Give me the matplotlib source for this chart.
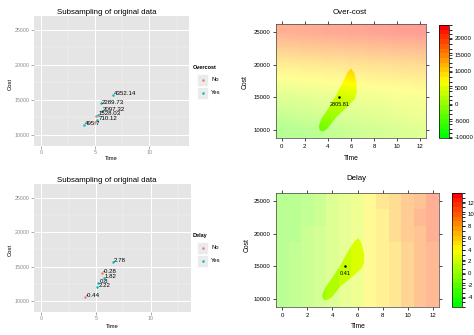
import numpy as np
import matplotlib
matplotlib.use('Agg')
import matplotlib.pyplot as plt
from matplotlib.colors import LinearSegmentedColormap, BoundaryNorm, Normalize
from matplotlib.patches import Polygon, Rectangle
from matplotlib.cm import ScalarMappable

plt.rcParams['font.family'] = ['Liberation Sans', 'DejaVu Sans']

# ---------------- data ----------------
over_time = [6.63, 5.50, 5.60, 5.23, 5.18, 3.97, 5.10, 5.00]
over_cost = [15760, 14510, 13460, 12880, 12160, 11400, 12740, 11870]
over_flag = ['Yes', 'Yes', 'Yes', 'Yes', 'Yes', 'Yes', 'No', 'No']
over_labels = ['4352.14', '2289.73', '2097.32', '1528.03', '710.12', '495.7', '', '']

delay_time = [6.55, 5.50, 5.70, 5.20, 5.10, 3.95]
delay_cost = [15680, 14060, 13400, 12650, 12070, 10580]
delay_flag = ['Yes', 'No', 'Yes', 'Yes', 'Yes', 'No']
delay_labels = ['2.78', '-0.28', '1.82', '0.8', '2.22', '-0.44']

grid_time = [0, 1, 2, 3, 4, 5, 6, 7, 8, 9, 10, 11, 12]
grid_cost = [10000, 12500, 15000, 17500, 20000, 22500, 25000]

# rows from cost 10000 (bottom) to 25000 (top)
overcost_grid = [
    [-5000, -4500, -4000, -3500, -2500, -2000, -1500, -500, 0, 500, 1000, 1500, 2000],
    [-1500, -1000, -500, 0, 500, 1000, 1500, 2000, 2500, 3000, 3500, 4000, 4500],
    [2000, 2000, 2500, 3000, 3500, 3500, 4000, 4500, 4500, 5000, 5500, 5500, 6000],
    [6000, 6000, 6500, 6500, 7000, 7000, 7500, 7500, 8000, 8000, 8500, 8500, 9000],
    [9500, 9500, 10000, 10000, 10500, 10500, 11000, 11000, 11500, 11500, 12000, 12000, 12500],
    [14500, 14500, 15000, 15000, 15500, 15500, 16000, 16000, 16500, 16500, 17000, 17000, 17500],
    [19500, 19500, 20000, 20000, 20500, 20500, 21000, 21000, 21500, 21500, 22000, 22000, 22500],
]
delay_grid = [
    [-2, -1.5, -0.5, 0, 1, 2, 3, 4, 5, 6, 7.5, 9, 10],
    [-2, -1.5, -0.5, 0, 1, 2, 3, 4, 5, 6, 7.5, 9, 10],
    [-2.5, -1.5, -0.5, 0, 1, 2, 3, 4, 5, 6, 7.5, 9, 10],
    [-2, -1.5, -0.5, 0, 1, 2, 3, 4, 5, 6, 7.5, 9, 10],
    [-2, -2, -0.5, 0, 1, 2, 3, 4, 5, 6.5, 8.5, 9.5, 10.5],
    [-2, -2, -1, -0.5, 1, 2, 3, 4, 5.5, 7, 8.5, 10, 11],
    [-2, -2, -1, -0.5, 1, 2, 3, 4, 6, 7, 8.5, 9.5, 11],
]

blob_time = [6.0, 6.3, 6.5, 6.5, 6.35, 5.6, 4.7, 3.9, 3.6, 3.3, 3.2, 3.4, 4.0, 4.6, 5.2, 5.7]
blob_cost = [19400, 18700, 17000, 15700, 14800, 13400, 11900, 10100, 9750, 9900,
             10500, 11600, 13200, 15000, 17000, 18800]

opt_time, opt_cost = 5.0, 15000
opt_over_label = '2805.81'
opt_delay_label = '0.41'

over_cticks = [-10000, -5000, 0, 5000, 10000, 15000, 20000]
delay_cticks = [-4, -2, 0, 2, 4, 6, 8, 10, 12]

# ---------------- layout helpers ----------------
W, H = 474, 335
fig = plt.figure(figsize=(W / 100, H / 100), dpi=100)


def fx(p):
    return p / W


def fy(p):
    return 1 - p / H


def box(l, t, r, b):
    return [fx(l), fy(b), fx(r) - fx(l), fy(t) - fy(b)]


COL = {'No': '#F8766D', 'Yes': '#00BFC4'}


def ggplot_scatter(ax, t, c, flags, labels, legend_title, leg_y, title_y, title_x):
    ax.set_facecolor('#E5E5E5')
    for s in ax.spines.values():
        s.set_visible(False)
    ax.set_xlim(-0.65, 13.65)
    ax.set_ylim(8400, 27000)
    ax.set_xticks([0, 5, 10])
    ax.set_xticks([2.5, 7.5, 12.5], minor=True)
    ax.set_yticks([10000, 15000, 20000, 25000])
    ax.set_yticks([12500, 17500, 22500], minor=True)
    ax.grid(which='major', color='white', lw=0.7)
    ax.grid(which='minor', color='#F4F4F4', lw=0.35)
    ax.set_axisbelow(True)
    ax.tick_params(which='major', length=2, width=0.5, color='#8A8A8A',
                   labelsize=3.8, labelcolor='#8A8A8A', pad=1.2)
    ax.tick_params(which='minor', length=0)
    for ti, ci, fl, lb in zip(t, c, flags, labels):
        ax.plot(ti, ci, 'o', ms=1.8, color=COL[fl], mec='none', zorder=3)
        if lb:
            ax.annotate(lb, (ti, ci), xytext=(0.8, 0.8), textcoords='offset points',
                        ha='left', va='center', fontsize=4.4, color='black', zorder=4)
    fig.text(fx(title_x), fy(title_y), 'Subsampling of original data', ha='center',
             va='center', fontsize=5.7)
    # legend
    lx = 193
    fig.text(fx(lx), fy(leg_y), legend_title, fontweight='bold', fontsize=4,
             va='center', ha='left')
    for name, dy in [('No', 12.5), ('Yes', 25.5)]:
        cy = leg_y + dy
        fig.patches.append(Rectangle((fx(197), fy(cy + 6)), fx(11), 12 / H,
                                     transform=fig.transFigure, facecolor='#EBEBEB',
                                     edgecolor='white', lw=0.5))
        fig.lines.append(plt.Line2D([fx(202.5)], [fy(cy)], transform=fig.transFigure,
                                    marker='o', ms=1.8, color=COL[name], mec='none'))
        fig.text(fx(211), fy(cy), name, fontsize=4.2, va='center', ha='left')


ax1 = fig.add_axes(box(34, 16, 189, 146))
ggplot_scatter(ax1, over_time, over_cost, over_flag, over_labels, 'Overcost', 67.3, 13, 107)
fig.text(fx(111.5), fy(159), 'Time', ha='center', va='center', fontsize=4.2)
fig.text(fx(10), fy(84), 'Cost', ha='center', va='center', fontsize=4.2, rotation=90)

ax3 = fig.add_axes(box(34, 184, 191, 312))
ggplot_scatter(ax3, delay_time, delay_cost, delay_flag, delay_labels, 'Delay', 235, 180, 107)
fig.text(fx(112.5), fy(327), 'Time', ha='center', va='center', fontsize=4.2)
fig.text(fx(10), fy(250), 'Cost', ha='center', va='center', fontsize=4.2, rotation=90)

# ---------------- level plots ----------------
cmap = LinearSegmentedColormap.from_list('gyr', ['#00FF00', '#FFFF00', '#FF0000'], N=256)
PALE = 0.42


def levelplot(ax, cax, grid, vmin, vmax, cticks, title, title_xy, plabel, smooth):
    Z = np.array(grid, dtype=float)
    levels = np.linspace(vmin, vmax, 25)
    bnorm = BoundaryNorm(levels, cmap.N)
    ext = (grid_time[0] - 0.5, grid_time[-1] + 0.5,
           grid_cost[0] - 1250, grid_cost[-1] + 1250)
    poly = Polygon(list(zip(blob_time, blob_cost)), closed=True, facecolor='none',
                   edgecolor='none', transform=ax.transData)
    ax.add_patch(poly)
    if smooth:
        norm = Normalize(vmin, vmax)
        for a, clip in [(PALE, False), (1.0, True)]:
            im = ax.imshow(Z, extent=ext, origin='lower', aspect='auto', cmap=cmap,
                           norm=norm, interpolation='bilinear', alpha=a)
            if clip:
                im.set_clip_path(poly)
    else:
        for a, clip in [(PALE, False), (1.0, True)]:
            m = ax.pcolormesh(grid_time, grid_cost, Z, cmap=cmap, norm=bnorm,
                              shading='nearest', alpha=a, edgecolor='none',
                              linewidth=0, antialiased=False)
            if clip:
                m.set_clip_path(poly)
    ax.plot(opt_time, opt_cost, 'o', ms=1.8, color='black', mec='none')
    ax.annotate(plabel, (opt_time, opt_cost), xytext=(0, -5.5), textcoords='offset points',
                ha='center', va='center', fontsize=4.0)
    ax.set_xlim(-0.5, 12.5)
    ax.set_ylim(8750, 26250)
    ax.set_xticks([0, 2, 4, 6, 8, 10, 12])
    ax.set_yticks([10000, 15000, 20000, 25000])
    ax.tick_params(direction='out', length=2.5, width=0.5, labelsize=4.3, pad=1.5,
                   top=True, right=True, labeltop=False, labelright=False)
    for s in ax.spines.values():
        s.set_linewidth(0.5)
        s.set_color('#444444')
    fig.text(fx(title_xy[0]), fy(title_xy[1]), title, ha='center', va='center', fontsize=5.7)
    cb = fig.colorbar(ScalarMappable(norm=bnorm, cmap=cmap), cax=cax)
    cb.set_ticks(cticks)
    cb.set_ticklabels([str(v) for v in cticks])
    cb.outline.set_linewidth(0.5)
    cax.tick_params(direction='out', length=2.5, width=0.5, labelsize=4.3, pad=1.5)


ax2 = fig.add_axes(box(276, 24, 426, 138))
cax2 = fig.add_axes(box(439, 25, 449, 138))
levelplot(ax2, cax2, overcost_grid, -10300, 24000, over_cticks, 'Over-cost', (350, 12.5),
          opt_over_label, True)
fig.text(fx(351.5), fy(159), 'Time', ha='center', va='center', fontsize=4.9)
fig.text(fx(245), fy(82), 'Cost', ha='center', va='center', fontsize=4.9, rotation=90)

ax4 = fig.add_axes(box(276, 193, 439, 307))
cax4 = fig.add_axes(box(452, 193, 462, 307))
levelplot(ax4, cax4, delay_grid, -5.75, 13.65, delay_cticks, 'Delay', (356, 179),
          opt_delay_label, False)
fig.text(fx(358), fy(326.7), 'Time', ha='center', va='center', fontsize=4.9)
fig.text(fx(247), fy(245), 'Cost', ha='center', va='center', fontsize=4.9, rotation=90)

fig.savefig('out.png', dpi=100, facecolor='white')
